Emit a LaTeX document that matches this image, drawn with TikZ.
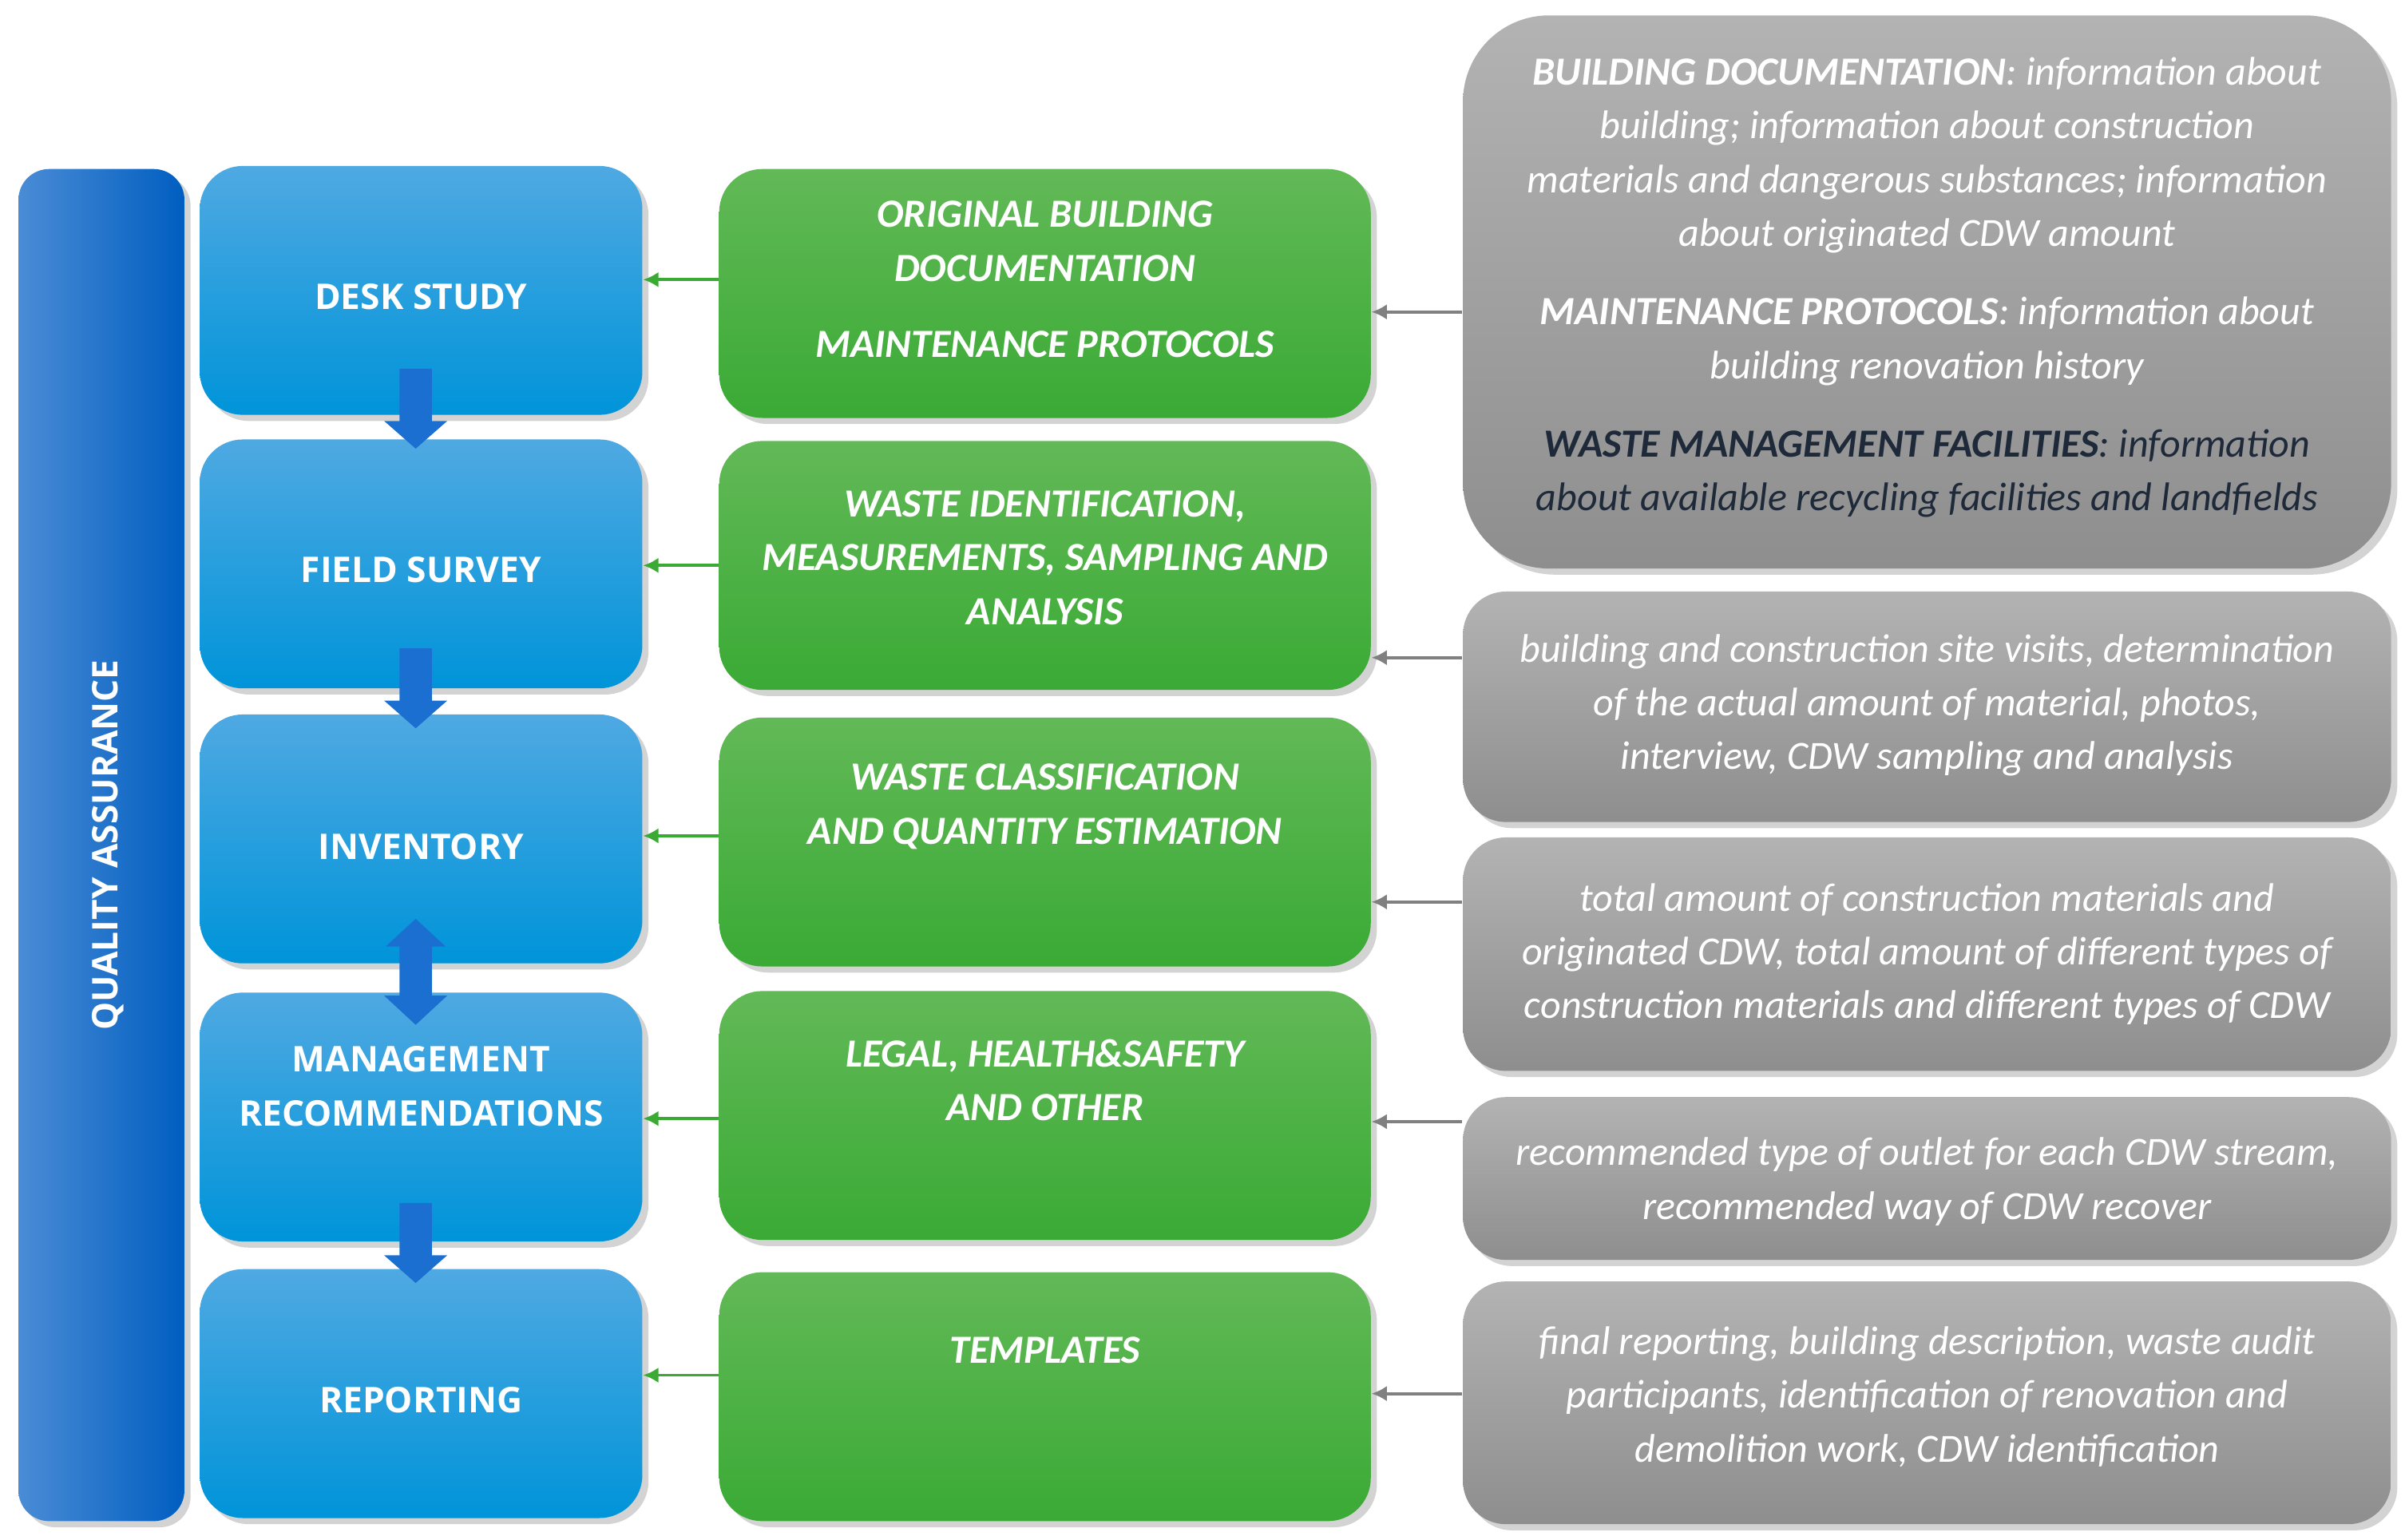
\documentclass[tikz,border=0pt]{standalone}
\usepackage{fontspec}
\setmainfont{Carlito}
\newfontfamily\boxfont{Open Sans}
\usetikzlibrary{shadows,arrows.meta}
\definecolor{bTop}{HTML}{4FA9E2}
\definecolor{bBot}{HTML}{0094D9}
\definecolor{gTop}{HTML}{62B957}
\definecolor{gBot}{HTML}{3AAA35}
\definecolor{grTop}{HTML}{B3B3B3}
\definecolor{grBot}{HTML}{8E8E8E}
\definecolor{qL}{HTML}{4A8CD6}
\definecolor{qR}{HTML}{005EC0}
\definecolor{arB}{HTML}{1A6FD0}
\definecolor{darkT}{HTML}{1E2A3A}
\tikzset{
  base/.style={rounded corners=14pt, drop shadow={shadow xshift=2pt,shadow yshift=-2pt,opacity=0.35}},
  bluebox/.style={base, top color=bTop, bottom color=bBot, draw=none},
  greenbox/.style={base, top color=gTop, bottom color=gBot, draw=none},
  graybox/.style={base, top color=grTop, bottom color=grBot, draw=none},
  btxt/.style={text=white, font=\boxfont\bfseries\fontsize{11.5}{17.5}\selectfont, align=center},
  gtxt/.style={text=white, font=\bfseries\itshape\fontsize{13}{17.5}\selectfont, align=center},
  rtxt/.style={text=white, font=\itshape\fontsize{13}{17.5}\selectfont, align=center},
  garrow/.style={draw=gBot, line width=1pt, -{Latex[length=5pt,width=5pt]}},
  grarrow/.style={draw=gray, line width=1pt, -{Latex[length=5pt,width=5pt]}},
  fat/.style={fill=arB, draw=none}
}
\begin{document}
\begin{tikzpicture}[x=0.5pt,y=-0.5pt]
\useasboundingbox (0,0) rectangle (1565,1002);
% quality assurance
\node[base, left color=qL, right color=qR, minimum width=54pt, minimum height=440pt, rounded corners=10pt] (qa) at (66,550) {};
\node[btxt, rotate=90] (qat) at (70,550) {QUALITY ASSURANCE};
% blue boxes
\foreach \n/\y in {b1/189,b2/367,b3/546,b4/727,b5/907}
  \node[bluebox, minimum width=144pt, minimum height=81pt] (\n) at (274,\y) {};
\node[btxt] (b1t) at (274,193) {DESK STUDY};
\node[btxt] (b2t) at (274,371) {FIELD SURVEY};
\node[btxt] (b3t) at (274,551) {INVENTORY};
\node[btxt] (b4t) at (274,707) {MANAGEMENT\\RECOMMENDATIONS};
\node[btxt] (b5t) at (274,911) {REPORTING};
% fat arrows
\foreach \t in {240,422,783}{
  \fill[fat] (260,\t) -- (281,\t) -- (281,\t+34) -- (291,\t+34) -- (270.5,\t+52) -- (250,\t+34) -- (260,\t+34) -- cycle;}
\fill[fat] (270.5,598) -- (290,616) -- (281,616) -- (281,648) -- (291,648) -- (270.5,667) -- (250,648) -- (260,648) -- (260,616) -- (251,616) -- cycle;
% green boxes
\foreach \n/\y in {g1/191,g2/368,g3/548,g4/726,g5/909}
  \node[greenbox, minimum width=212pt, minimum height=81pt] (\n) at (680,\y) {};
\node[gtxt] (g1t) at (680,157) {ORIGINAL BUILDING\\DOCUMENTATION};
\node[gtxt] (g1u) at (680,224) {MAINTENANCE PROTOCOLS};
\node[gtxt] (g2t) at (680,363) {WASTE IDENTIFICATION,\\MEASUREMENTS, SAMPLING AND\\ANALYSIS};
\node[gtxt] (g3t) at (680,525) {WASTE CLASSIFICATION\\AND QUANTITY ESTIMATION};
\node[gtxt] (g4t) at (680,703) {LEGAL, HEALTH\&SAFETY\\AND OTHER};
\node[gtxt] (g5t) at (680,879) {TEMPLATES};
% gray boxes
\node[graybox, rounded corners=28pt, minimum width=302pt, minimum height=180pt] (r1) at (1254,190) {};
\node[graybox, minimum width=302pt, minimum height=75pt] (r2) at (1254,460) {};
\node[graybox, minimum width=302pt, minimum height=76pt] (r3) at (1254,621) {};
\node[graybox, minimum width=302pt, minimum height=53pt] (r4) at (1254,767) {};
\node[graybox, minimum width=302pt, minimum height=79pt] (r5) at (1254,913) {};
\node[rtxt] (r1a) at (1254,101) {\textbf{BUILDING DOCUMENTATION}: information about\\building; information about construction\\materials and dangerous substances; information\\about originated CDW amount};
\node[rtxt] (r1b) at (1254,222) {\textbf{MAINTENANCE PROTOCOLS}: information about\\building renovation history};
\node[rtxt, text=darkT] (r1c) at (1254,308) {\textbf{WASTE MANAGEMENT FACILITIES}: information\\about available recycling facilities and landfields};
\node[rtxt] (r2t) at (1254,459) {building and construction site visits, determination\\of the actual amount of material, photos,\\interview, CDW sampling and analysis};
\node[rtxt] (r3t) at (1254,621) {total amount of construction materials and\\originated CDW, total amount of different types of\\construction materials and different types of CDW};
\node[rtxt] (r4t) at (1254,769) {recommended type of outlet for each CDW stream,\\recommended way of CDW recover};
\node[rtxt] (r5t) at (1254,909) {final reporting, building description, waste audit\\participants, identification of renovation and\\demolition work, CDW identification};
% green arrows
\draw[garrow] (g1.west |- 0,182) -- (b1.east |- 0,182);
\draw[garrow] (g2.west |- 0,368) -- (b2.east |- 0,368);
\draw[garrow] (g3.west |- 0,544) -- (b3.east |- 0,544);
\draw[garrow] (g4.west |- 0,728) -- (b4.east |- 0,728);
\draw[garrow] (g5.west |- 0,895) -- (b5.east |- 0,895);
% gray arrows
\draw[grarrow] (r1.west |- 0,203) -- (g1.east |- 0,203);
\draw[grarrow] (r2.west |- 0,428) -- (g2.east |- 0,428);
\draw[grarrow] (r3.west |- 0,587) -- (g3.east |- 0,587);
\draw[grarrow] (r4.west |- 0,730) -- (g4.east |- 0,730);
\draw[grarrow] (r5.west |- 0,907) -- (g5.east |- 0,907);
\end{tikzpicture}
\end{document}
